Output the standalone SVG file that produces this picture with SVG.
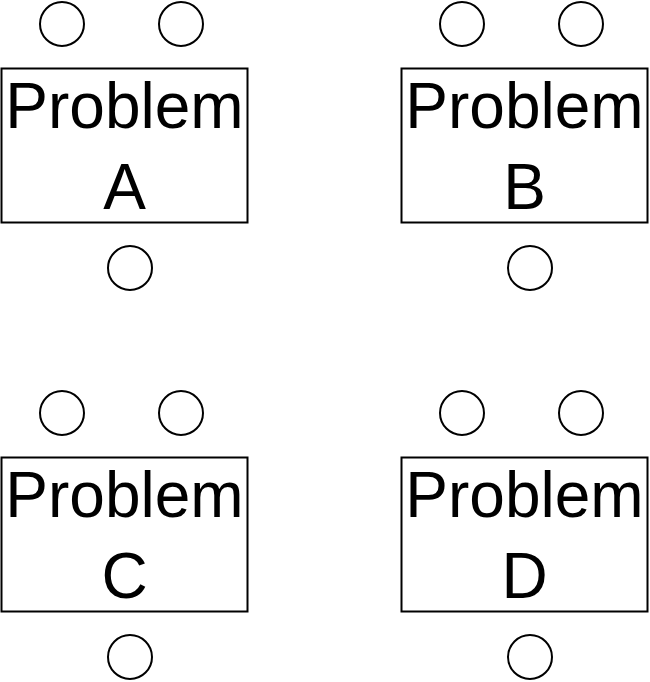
<svg xmlns="http://www.w3.org/2000/svg" width="650" height="682" viewBox="0 0 650 682">
<style>
.box{fill:#fff;stroke:#000;stroke-width:2}
.port{fill:#fff;stroke:#000;stroke-width:2}
.lbl{font-family:"Liberation Sans",Arial,sans-serif;font-size:64px;fill:#000;text-anchor:middle}
</style>
<rect width="650" height="682" fill="#fff"/>
<g id="connectors"></g>
<g id="problemA">
<rect class="box" x="1.5" y="68.5" width="246" height="154"/>
<text class="lbl" x="124.5" y="128">Problem</text>
<text class="lbl" x="124.5" y="209">A</text>
<circle class="port" cx="62" cy="24" r="22"/>
<circle class="port" cx="181" cy="24" r="22"/>
<circle class="port" cx="130" cy="268" r="22"/>
</g>
<g id="problemB">
<rect class="box" x="401.5" y="68.5" width="246" height="154"/>
<text class="lbl" x="524.5" y="128">Problem</text>
<text class="lbl" x="524.5" y="209">B</text>
<circle class="port" cx="462" cy="24" r="22"/>
<circle class="port" cx="581" cy="24" r="22"/>
<circle class="port" cx="530" cy="268" r="22"/>
</g>
<g id="problemC">
<rect class="box" x="1.5" y="457.5" width="246" height="154"/>
<text class="lbl" x="124.5" y="517">Problem</text>
<text class="lbl" x="124.5" y="598">C</text>
<circle class="port" cx="62" cy="413" r="22"/>
<circle class="port" cx="181" cy="413" r="22"/>
<circle class="port" cx="130" cy="657" r="22"/>
</g>
<g id="problemD">
<rect class="box" x="401.5" y="457.5" width="246" height="154"/>
<text class="lbl" x="524.5" y="517">Problem</text>
<text class="lbl" x="524.5" y="598">D</text>
<circle class="port" cx="462" cy="413" r="22"/>
<circle class="port" cx="581" cy="413" r="22"/>
<circle class="port" cx="530" cy="657" r="22"/>
</g>
</svg>
